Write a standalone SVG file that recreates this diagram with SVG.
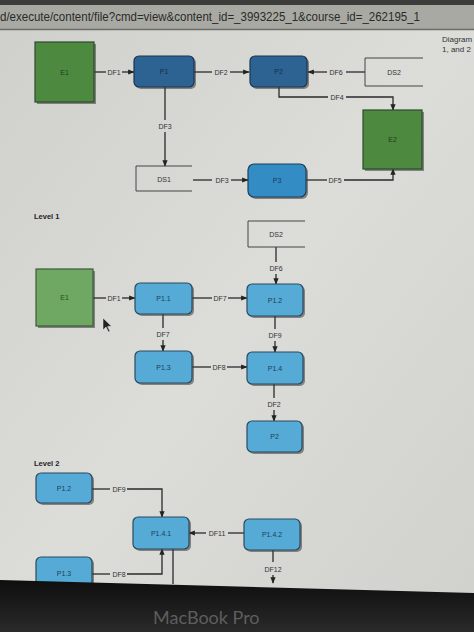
<svg xmlns="http://www.w3.org/2000/svg" width="474" height="632" viewBox="0 0 474 632">
<defs>
<linearGradient id="bg" x1="0" y1="0" x2="1" y2="1">
<stop offset="0" stop-color="#cfcfcb"/>
<stop offset="0.5" stop-color="#dcdcd9"/>
<stop offset="1" stop-color="#d0d0cc"/>
</linearGradient>
<linearGradient id="bez" x1="0" y1="0" x2="0" y2="1">
<stop offset="0" stop-color="#0e0e0e"/>
<stop offset="1" stop-color="#2a2a2a"/>
</linearGradient>
<marker id="ah" viewBox="0 0 10 10" refX="9" refY="5" markerWidth="5" markerHeight="5" orient="auto">
<path d="M0,1 L10,5 L0,9 z" fill="#222"/>
</marker>
</defs>
<style>
.ln{fill:none;stroke:#2a2a2a;stroke-width:1.3}
.lb{font-family:"Liberation Sans",Arial,sans-serif;font-size:7px;fill:#333;text-anchor:middle;dominant-baseline:central}
.nt{font-family:"Liberation Sans",Arial,sans-serif;font-size:7px;text-anchor:middle;dominant-baseline:central}
.sh{fill:#3a3a3a;opacity:0.55}
.ent{fill:#4d8a40;stroke:#2e4a2a;stroke-width:1.2}
.ent2{fill:#6ea862;stroke:#3d5a38;stroke-width:1.2}
.pd{fill:#2c6392;stroke:#1d3550;stroke-width:1.2}
.pm{fill:#338dc4;stroke:#1d3f5a;stroke-width:1.2}
.pl{fill:#55aad6;stroke:#2a4a5e;stroke-width:1.2}
.ds{fill:none;stroke:#444;stroke-width:1}
.lvl{font-family:"Liberation Sans",Arial,sans-serif;font-size:7.5px;font-weight:bold;fill:#222}
</style>
<rect x="0" y="0" width="474" height="632" fill="url(#bg)"/>
<rect x="0" y="0" width="474" height="5" fill="#3c3c3a"/>
<rect x="0" y="5" width="474" height="24" fill="#a9a9a3"/>
<line x1="0" y1="29.5" x2="474" y2="29.5" stroke="#6d6d68" stroke-width="1.5"/>
<text x="0" y="21" font-family="Liberation Sans,Arial,sans-serif" font-size="12.5" fill="#2a2a2a" textLength="420" lengthAdjust="spacingAndGlyphs">d/execute/content/file?cmd=view&amp;content_id=_3993225_1&amp;course_id=_262195_1</text>
<text x="442" y="42" font-family="Liberation Sans,Arial,sans-serif" font-size="8" fill="#333">Diagram</text>
<text x="442" y="52" font-family="Liberation Sans,Arial,sans-serif" font-size="8" fill="#333">1, and 2</text>

<g id="connectors">
<line class="ln" x1="94" y1="72" x2="106" y2="72"/><text class="lb" x="114" y="72">DF1</text><line class="ln" x1="122" y1="72" x2="134" y2="72" marker-end="url(#ah)"/>
<line class="ln" x1="194" y1="72" x2="212" y2="72"/><text class="lb" x="221" y="72">DF2</text><line class="ln" x1="230" y1="72" x2="249" y2="72" marker-end="url(#ah)"/>
<line class="ln" x1="365" y1="72" x2="346" y2="72"/><text class="lb" x="336" y="72">DF6</text><line class="ln" x1="327" y1="72" x2="308" y2="72" marker-end="url(#ah)"/>
<polyline class="ln" points="279,87 279,97 328,97"/><text class="lb" x="337" y="97">DF4</text><polyline class="ln" points="346,97 393,97 393,110" marker-end="url(#ah)"/>
<line class="ln" x1="165" y1="87" x2="165" y2="120"/><text class="lb" x="165" y="126">DF3</text><line class="ln" x1="165" y1="132" x2="165" y2="166" marker-end="url(#ah)"/>
<line class="ln" x1="193" y1="180" x2="212" y2="180"/><text class="lb" x="222" y="180">DF3</text><line class="ln" x1="231" y1="180" x2="248" y2="180" marker-end="url(#ah)"/>
<line class="ln" x1="306" y1="180" x2="327" y2="180"/><text class="lb" x="335" y="180">DF5</text><polyline class="ln" points="344,180 393,180 393,169" marker-end="url(#ah)"/>
<line class="ln" x1="276" y1="247" x2="276" y2="262"/><text class="lb" x="276" y="268">DF6</text><line class="ln" x1="276" y1="274" x2="276" y2="284" marker-end="url(#ah)"/>
<line class="ln" x1="93" y1="298" x2="106" y2="298"/><text class="lb" x="114" y="298">DF1</text><line class="ln" x1="122" y1="298" x2="135" y2="298" marker-end="url(#ah)"/>
<line class="ln" x1="192" y1="298" x2="212" y2="298"/><text class="lb" x="220" y="298">DF7</text><line class="ln" x1="228" y1="298" x2="247" y2="298" marker-end="url(#ah)"/>
<line class="ln" x1="163" y1="314" x2="163" y2="328"/><text class="lb" x="163" y="334">DF7</text><line class="ln" x1="163" y1="340" x2="163" y2="351" marker-end="url(#ah)"/>
<line class="ln" x1="275" y1="316" x2="275" y2="329"/><text class="lb" x="275" y="335">DF9</text><line class="ln" x1="275" y1="341" x2="275" y2="352" marker-end="url(#ah)"/>
<line class="ln" x1="192" y1="367" x2="211" y2="367"/><text class="lb" x="219" y="367">DF8</text><line class="ln" x1="227" y1="367" x2="247" y2="367" marker-end="url(#ah)"/>
<line class="ln" x1="274" y1="384" x2="274" y2="398"/><text class="lb" x="274" y="404">DF2</text><line class="ln" x1="274" y1="410" x2="274" y2="421" marker-end="url(#ah)"/>
<line class="ln" x1="92" y1="489" x2="110" y2="489"/><text class="lb" x="119" y="489">DF9</text><polyline class="ln" points="127,489 162,489 162,517" marker-end="url(#ah)"/>
<line class="ln" x1="92" y1="574" x2="110" y2="574"/><text class="lb" x="119" y="574">DF8</text><polyline class="ln" points="127,574 162,574 162,549" marker-end="url(#ah)"/>
<line class="ln" x1="245" y1="533" x2="228" y2="533"/><text class="lb" x="217" y="533">DF11</text><line class="ln" x1="206" y1="533" x2="189" y2="533" marker-end="url(#ah)"/>
<line class="ln" x1="273" y1="550" x2="273" y2="562"/><text class="lb" x="273" y="569">DF12</text><line class="ln" x1="273" y1="575" x2="273" y2="583" marker-end="url(#ah)"/>
<line class="ln" x1="173" y1="549" x2="173" y2="584"/>
</g>

<g id="E1"><rect class="sh" x="37" y="44" width="59" height="60"/><rect class="ent" x="35" y="42" width="59" height="60"/><text class="nt" x="64.5" y="72" fill="#1f3a1c">E1</text></g>
<g id="P1"><rect class="sh" x="136" y="58" width="60" height="31" rx="5"/><rect class="pd" x="134" y="56" width="60" height="31" rx="5"/><text class="nt" x="164" y="71.5" fill="#16304a">P1</text></g>
<g id="P2"><rect class="sh" x="252" y="58" width="57" height="31" rx="5"/><rect class="pd" x="250" y="56" width="57" height="31" rx="5"/><text class="nt" x="278.5" y="71.5" fill="#16304a">P2</text></g>
<g id="DS2"><path class="ds" d="M423,58 H365 V86 H423"/><text class="nt" x="394" y="72" fill="#333">DS2</text></g>
<g id="E2"><rect class="sh" x="365" y="112" width="59" height="59"/><rect class="ent" x="363" y="110" width="59" height="59"/><text class="nt" x="392.5" y="139.5" fill="#1f3a1c">E2</text></g>
<g id="DS1"><path class="ds" d="M192,166 H136 V191 H192"/><text class="nt" x="164" y="179" fill="#333">DS1</text></g>
<g id="P3"><rect class="sh" x="250" y="166" width="58" height="33" rx="6"/><rect class="pm" x="248" y="164" width="58" height="33" rx="6"/><text class="nt" x="277" y="180.5" fill="#1a3a55">P3</text></g>

<text class="lvl" x="34" y="219">Level 1</text>
<g id="L1-DS2"><path class="ds" d="M305,221 H248 V247 H305"/><text class="nt" x="276" y="234" fill="#333">DS2</text></g>
<g id="L1-E1"><rect class="sh" x="38" y="271" width="57" height="57"/><rect class="ent2" x="36" y="269" width="57" height="57"/><text class="nt" x="64.5" y="297.5" fill="#2a4a26">E1</text></g>
<g id="P1.1"><rect class="sh" x="137" y="285" width="57" height="31" rx="5"/><rect class="pl" x="135" y="283" width="57" height="31" rx="5"/><text class="nt" x="163.5" y="298.5" fill="#1d3f58">P1.1</text></g>
<g id="P1.2"><rect class="sh" x="249" y="286" width="56" height="32" rx="5"/><rect class="pl" x="247" y="284" width="56" height="32" rx="5"/><text class="nt" x="275" y="300" fill="#1d3f58">P1.2</text></g>
<g id="P1.3"><rect class="sh" x="137" y="353" width="57" height="32" rx="5"/><rect class="pl" x="135" y="351" width="57" height="32" rx="5"/><text class="nt" x="163.5" y="367" fill="#1d3f58">P1.3</text></g>
<g id="P1.4"><rect class="sh" x="249" y="354" width="56" height="32" rx="5"/><rect class="pl" x="247" y="352" width="56" height="32" rx="5"/><text class="nt" x="275" y="368" fill="#1d3f58">P1.4</text></g>
<g id="L1-P2"><rect class="sh" x="249" y="423" width="55" height="31" rx="5"/><rect class="pl" x="247" y="421" width="55" height="31" rx="5"/><text class="nt" x="274.5" y="436.5" fill="#1d3f58">P2</text></g>

<text class="lvl" x="34" y="466">Level 2</text>
<g id="L2-P1.2"><rect class="sh" x="38" y="475" width="56" height="30" rx="5"/><rect class="pl" x="36" y="473" width="56" height="30" rx="5"/><text class="nt" x="64" y="488" fill="#1d3f58">P1.2</text></g>
<g id="P1.4.1"><rect class="sh" x="135" y="519" width="56" height="32" rx="5"/><rect class="pl" x="133" y="517" width="56" height="32" rx="5"/><text class="nt" x="161" y="533" fill="#1d3f58">P1.4.1</text></g>
<g id="P1.4.2"><rect class="sh" x="246" y="521" width="56" height="31" rx="5"/><rect class="pl" x="244" y="519" width="56" height="31" rx="5"/><text class="nt" x="272" y="534.5" fill="#1d3f58">P1.4.2</text></g>
<g id="L2-P1.3"><rect class="sh" x="38" y="559" width="56" height="30" rx="5"/><rect class="pl" x="36" y="557" width="56" height="30" rx="5"/><text class="nt" x="64" y="573" fill="#1d3f58">P1.3</text></g>

<path d="M103,318 L103,330 L106,327 L108.5,332 L110,331.3 L107.6,326.4 L111.5,326.2 Z" fill="#222" stroke="#eee" stroke-width="0.5"/>

<polygon points="0,580 474,593 474,632 0,632" fill="url(#bez)"/>
<text x="153" y="624" font-family="Lato,'Liberation Sans',sans-serif" font-size="18" fill="#5e5e5e">MacBook Pro</text>
</svg>
